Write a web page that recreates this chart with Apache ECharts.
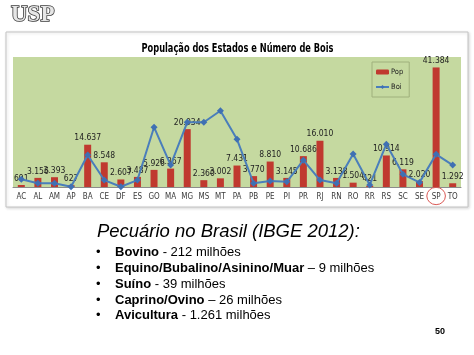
<!DOCTYPE html>
<html>
<head>
<meta charset="utf-8">
<script src="https://cdn.jsdelivr.net/npm/echarts@6/dist/echarts.min.js"></script>
<style>
html,body{margin:0;padding:0;background:#fff;}
#c{width:474px;height:355px;}
</style>
</head>
<body>
<div id="c"></div>
<script>
// ---- data ----
var states = ['AC','AL','AM','AP','BA','CE','DF','ES','GO','MA','MG','MS','MT','PA','PB','PE','PI','PR','RJ','RN','RO','RR','RS','SC','SE','SP','TO'];
// population (thousands), 2009
var pop = [691,3156,3393,627,14637,8548,2607,3487,5926,6367,20034,2360,3002,7431,3770,8810,3145,10686,16010,3138,1504,421,10914,6119,2020,41384,1292];
// cattle (millions)
var boi = [2.7,1.3,1.3,0.1,11.1,2.4,0.1,2.4,20.7,7.6,22.4,22.4,26.4,16.5,1.3,2.1,1.8,9.3,2.4,1.3,11.4,0.7,14.8,4.4,1.6,11.3,7.6];
var seriesNames = ['Pop','Boi'];
var chartTitle = 'População dos Estados e Número de Bois';
var heading = 'Pecuário no Brasil (IBGE 2012):';
var bullets = [
  ['Bovino',' - 212 milhões'],
  ['Equino/Bubalino/Asinino/Muar',' – 9 milhões'],
  ['Suíno',' - 39 milhões'],
  ['Caprino/Ovino',' – 26 milhões'],
  ['Avicultura',' - 1.261 milhões']
];
var pageNumber = '50';

// ---- font helpers ----
var cv = document.createElement('canvas').getContext('2d');
function hasFont(name){
  cv.font = '20px monospace'; var a = cv.measureText('abcdefghijklmnopqrstuvwxyz0123456789').width;
  cv.font = '20px "' + name + '", monospace'; var b = cv.measureText('abcdefghijklmnopqrstuvwxyz0123456789').width;
  return a !== b;
}
var narrowName = ['Liberation Sans Narrow','DejaVu Sans Condensed','Liberation Sans'].filter(hasFont)[0] || 'Liberation Sans';
var narrow = '"' + narrowName + '",Arial,sans-serif';
var sans = '"Liberation Sans",Arial,sans-serif';
function textWidth(text, family, weight, size){
  cv.font = weight + ' ' + size + 'px ' + family;
  return cv.measureText(text).width;
}
var titleSize = 12.5;
var titleScaleX = Math.min(1, 192 / textWidth(chartTitle, narrow, 'bold', titleSize));
var headSize = 100 * 263 / textWidth(heading, sans, 'italic', 100);
var smallScale = narrowName === 'Liberation Sans' ? 0.9 : 1;

function fmt(v){ return String(v).replace(/\B(?=(\d{3})+(?!\d))/g,'.'); }

var chart = echarts.init(document.getElementById('c'), null, {renderer:'canvas'});
var option = {
  backgroundColor:'#ffffff',
  animation:false,
  legend:{
    data: seriesNames, orient:'vertical', left:372, top:62,
    padding:[6,6,6,3], itemGap:7, itemWidth:13, itemHeight:5,
    borderColor:'#9fb07c', borderWidth:1,
    textStyle:{fontFamily:narrow, fontSize:7.5*smallScale, color:'#222', padding:[0,0,0,-3]}
  },
  grid:{left:13, right:13, top:57, height:130, show:true, backgroundColor:'#c5d9a0', borderWidth:0, containLabel:false},
  xAxis:{
    type:'category', data:states,
    axisLine:{lineStyle:{color:'#8c8c8c'}},
    axisTick:{show:false},
    axisLabel:{fontFamily:narrow, fontSize:8*smallScale, color:'#3a3a3a', margin:6, interval:0}
  },
  yAxis:[
    {type:'value', min:0, max:45000, show:false, splitLine:{show:false}},
    {type:'value', min:0, max:45, show:false, splitLine:{show:false}}
  ],
  series:[
    {name:seriesNames[0], type:'bar', data:pop, barWidth:7,
     itemStyle:{color:'#c0392f'},
     label:{show:true, position:'top', distance:2, fontFamily:narrow, fontSize:8.5*smallScale, color:'#222',
            formatter:function(p){return fmt(p.value);}}},
    {name:seriesNames[1], type:'line', yAxisIndex:1, data:boi,
     lineStyle:{color:'#4a7ebb', width:2}, itemStyle:{color:'#3f70b3'},
     symbol:'diamond', symbolSize:7, z:3}
  ]
};
chart.setOption(option);

var spX = chart.convertToPixel({xAxisIndex:0}, 'SP');
var baseY = chart.convertToPixel({yAxisIndex:0}, 0);

var g = [
  {type:'rect', z:-10, shape:{x:6, y:32, width:462, height:175},
   style:{fill:'#ffffff', stroke:'#c4c4c4', lineWidth:1, shadowColor:'rgba(0,0,0,0.15)', shadowBlur:3, shadowOffsetX:1, shadowOffsetY:1}},
  {type:'text', z:5, x:237.5, y:48.5, scaleX:titleScaleX, originX:0, originY:0,
   style:{text:chartTitle, fontFamily:narrow, fontSize:titleSize, fontWeight:'bold', fill:'#000',
          align:'center', textAlign:'center', verticalAlign:'middle', textVerticalAlign:'middle'}},
  {type:'text', z:5, x:11, y:4,
   style:{text:'USP', fontFamily:'"Liberation Serif",serif', fontSize:23, fontWeight:'bold',
          fill:'#e6e6e6', stroke:'#3a3a3a', lineWidth:1.6,
          shadowColor:'rgba(0,0,0,0.35)', shadowBlur:3, shadowOffsetX:2, shadowOffsetY:2}},
  {type:'circle', z:10, shape:{cx:spX, cy:baseY+9, r:9.3}, scaleY:0.93, originX:spX, originY:baseY+9,
   style:{fill:'none', stroke:'#d9534f', lineWidth:1}},
  {type:'text', x:97, y:232, style:{text:heading, fontFamily:sans, fontSize:headSize, fontStyle:'italic', fill:'#000', verticalAlign:'middle', textVerticalAlign:'middle'}},
  {type:'text', x:440, y:332, style:{text:pageNumber, fontFamily:sans, fontSize:9, fontWeight:'bold', fill:'#000', align:'center', textAlign:'center', verticalAlign:'middle', textVerticalAlign:'middle'}}
];
var lineYs = [252.7, 268.3, 284.3, 300, 315.6];
bullets.forEach(function(b, i){
  g.push({type:'text', x:96, y:lineYs[i], style:{text:'•', fontFamily:sans, fontSize:13, fill:'#000', verticalAlign:'middle', textVerticalAlign:'middle'}});
  g.push({type:'text', x:115, y:lineYs[i], style:{
    text:'{b|'+b[0]+'}{r|'+b[1]+'}', fontFamily:sans, fontSize:13, fill:'#000',
    verticalAlign:'middle', textVerticalAlign:'middle',
    rich:{b:{fontFamily:sans, fontSize:13, fontWeight:'bold', fill:'#000', color:'#000'},
          r:{fontFamily:sans, fontSize:13, fill:'#000', color:'#000'}}
  }});
});
chart.setOption({graphic:g});
</script>
</body>
</html>
